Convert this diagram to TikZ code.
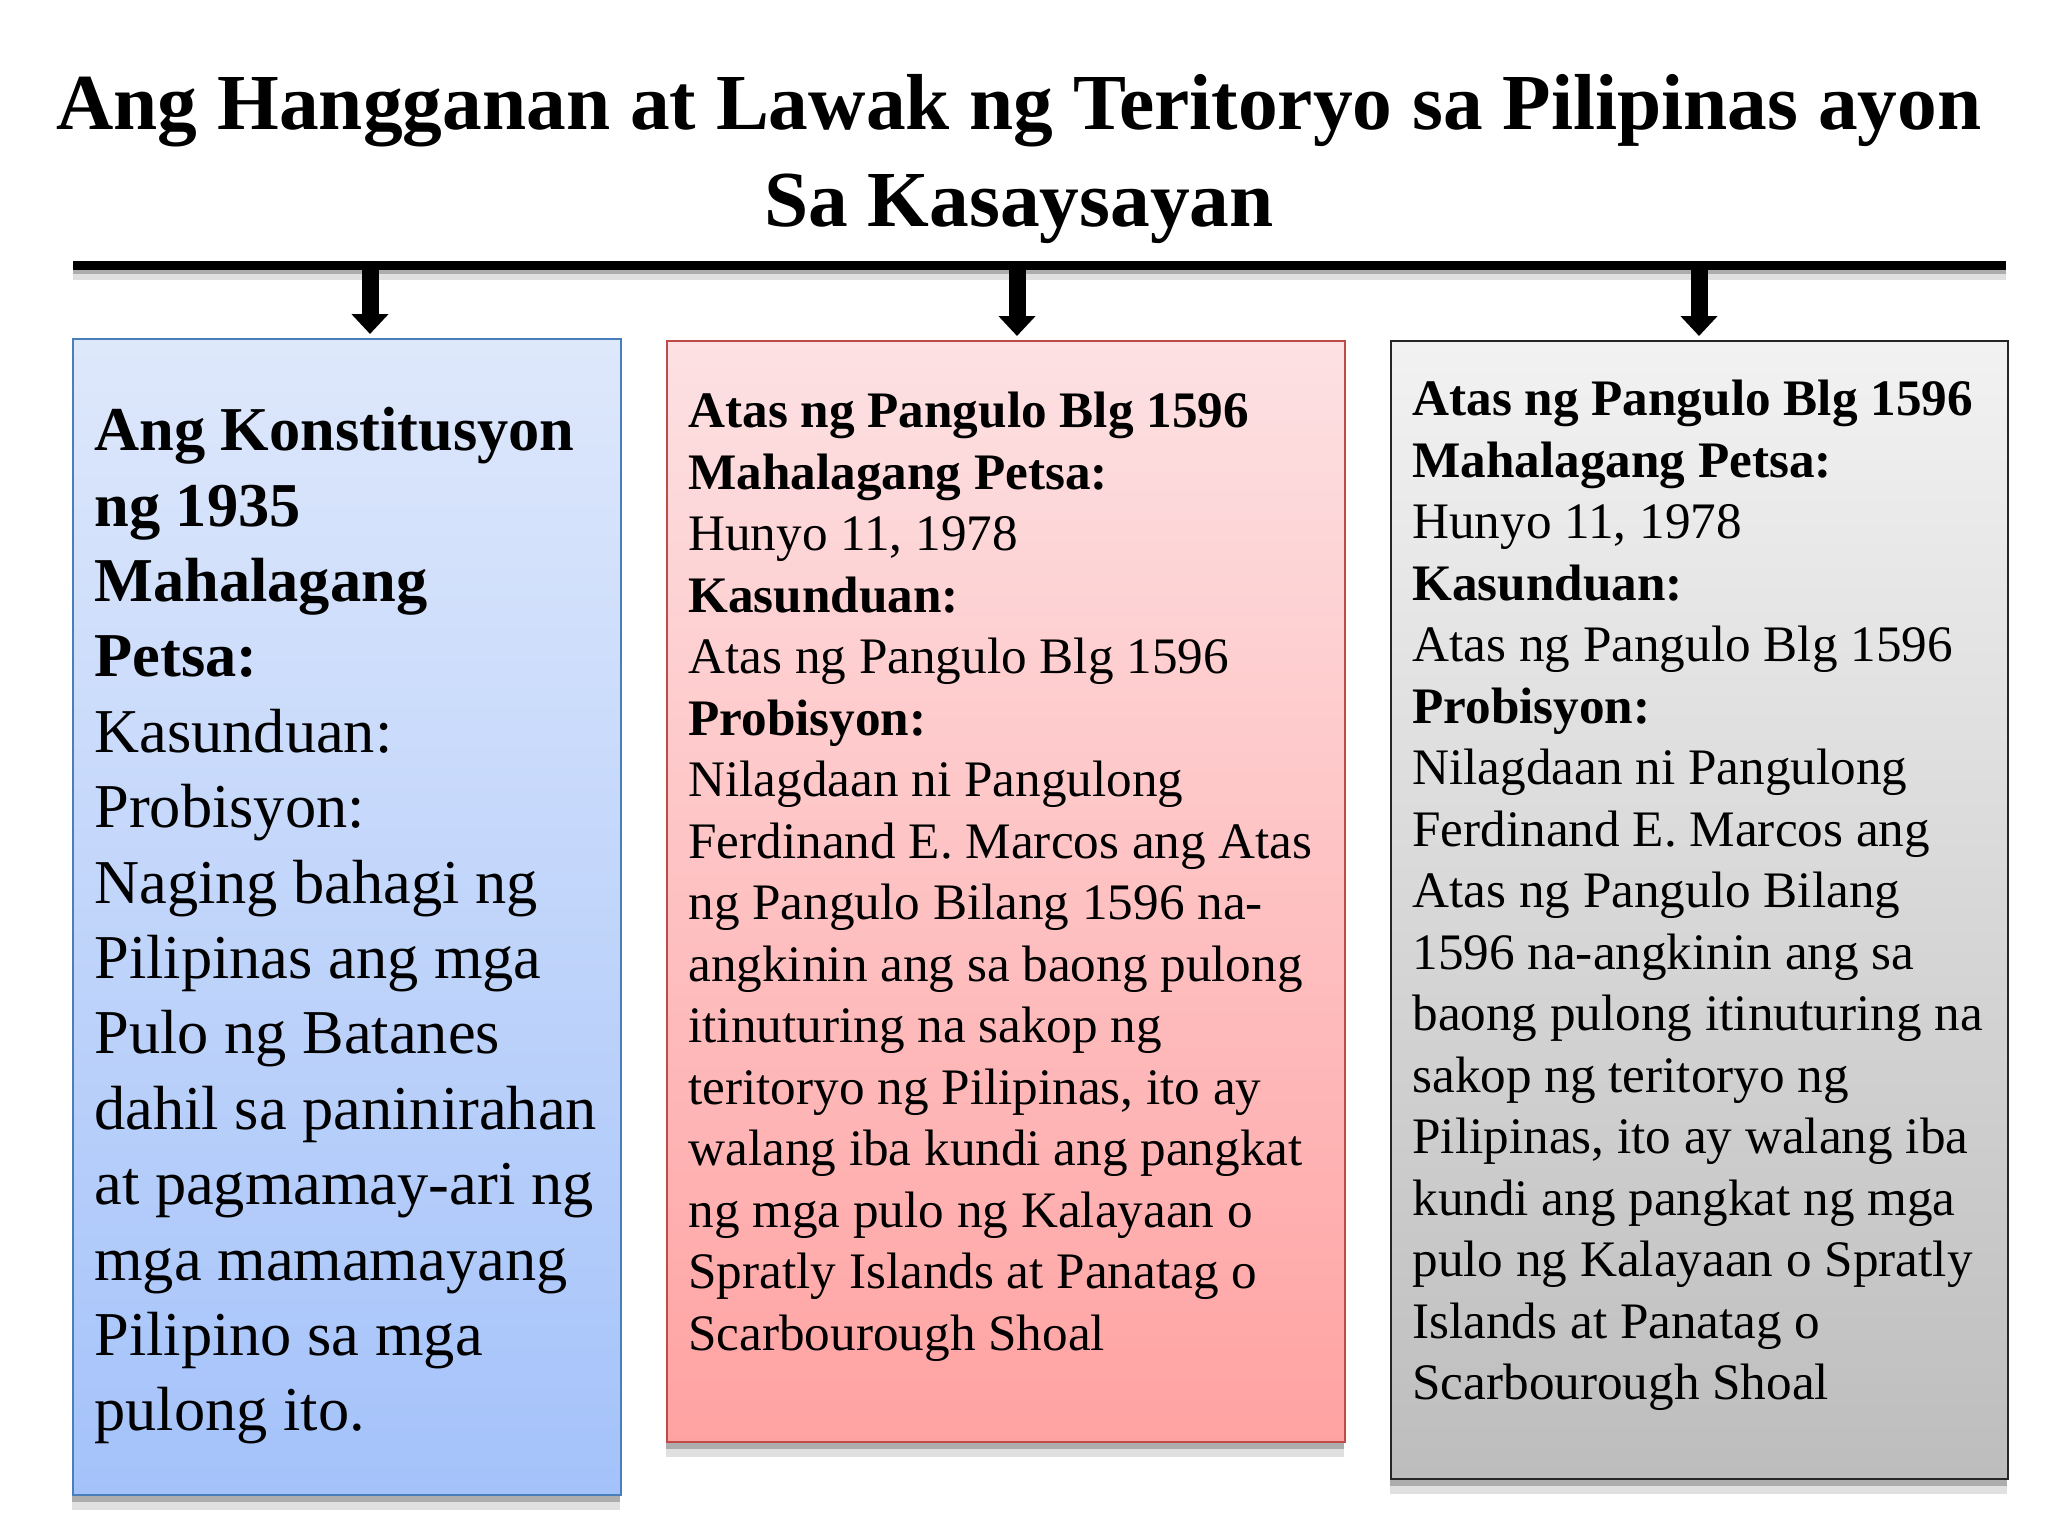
\documentclass[tikz,border=0pt]{standalone}
\usepackage{fontspec}
\setmainfont{Liberation Serif}
\usetikzlibrary{arrows.meta}
\definecolor{bluetop}{HTML}{DEE8FB}
\definecolor{bluebot}{HTML}{A4C2FA}
\definecolor{blueedge}{HTML}{4A7EBB}
\definecolor{redtop}{HTML}{FDE1E3}
\definecolor{redbot}{HTML}{FFA2A2}
\definecolor{rededge}{HTML}{BE4B48}
\definecolor{graytop}{HTML}{F2F2F2}
\definecolor{graybot}{HTML}{BDBDBD}
\tikzset{
  panel/.style={anchor=north west, inner sep=0pt, line width=1pt},
  shadowdark/.style={fill=black!32},
  shadowlight/.style={fill=black!12},
  downarrow/.style={line width=8.5pt, -{Triangle[width=18pt,length=10pt]}, shorten >=2pt},
  bigtext/.style={anchor=north west, inner sep=0pt, align=left, font=\fontsize{31.2}{37.7}\selectfont},
  smalltext/.style={anchor=north west, inner sep=0pt, align=left, font=\fontsize{25.6}{30.75}\selectfont},
}
\begin{document}
\begin{tikzpicture}[x=0.5pt,y=-0.5pt]
\useasboundingbox (0,0) rectangle (2048,1536);
\fill[white] (0,0) rectangle (2048,1536);
% title
\node (title) [anchor=north, inner sep=0pt, align=center, font=\bfseries\fontsize{39.7}{48.3}\selectfont] at (1019,74)
  {Ang Hangganan at Lawak ng Teritoryo sa Pilipinas ayon\\Sa Kasaysayan};
% bar with shadow
\fill[shadowlight] (73,269) rectangle (2006,280);
\fill[shadowdark] (73,269) rectangle (2006,274);
\coordinate (barL) at (73,265);
\coordinate (barR) at (2006,265);
\draw[line width=4.5pt] (barL) -- (barR);
% shadows of boxes
\fill[shadowdark] (72,1494) rectangle (620,1502);
\fill[shadowlight] (72,1502) rectangle (620,1510);
\fill[shadowdark] (666,1441) rectangle (1344,1449);
\fill[shadowlight] (666,1449) rectangle (1344,1457);
\fill[shadowdark] (1390,1478) rectangle (2007,1486);
\fill[shadowlight] (1390,1486) rectangle (2007,1494);
% boxes
\node (b1) [panel, draw=blueedge, top color=bluetop, bottom color=bluebot, minimum width=274pt, minimum height=578pt] at (72,338) {};
\node (b2) [panel, draw=rededge, top color=redtop, bottom color=redbot, minimum width=339pt, minimum height=550.5pt] at (666,340) {};
\node (b3) [panel, draw=black!85, top color=graytop, bottom color=graybot, minimum width=308.5pt, minimum height=569pt] at (1390,340) {};
% arrows
\coordinate (a1) at (370,269);
\coordinate (a2) at (1017,269);
\coordinate (a3) at (1699,269);
\draw[downarrow] (a1) -- (a1 |- b1.north);
\draw[downarrow] (a2) -- (a2 |- b2.north);
\draw[downarrow] (a3) -- (a3 |- b3.north);
% texts
\node (t1) [bigtext] at (94,407) {\textbf{Ang Konstitusyon}\\\textbf{ng 1935}\\\textbf{Mahalagang}\\\textbf{Petsa:}\\Kasunduan:\\Probisyon:\\Naging bahagi ng\\Pilipinas ang mga\\Pulo ng Batanes\\dahil sa paninirahan\\at pagmamay-ari ng\\mga mamamayang\\Pilipino sa mga\\pulong ito.};
\node (t2) [smalltext] at (688,392) {\textbf{Atas ng Pangulo Blg 1596}\\\textbf{Mahalagang Petsa:}\\Hunyo 11, 1978\\\textbf{Kasunduan:}\\Atas ng Pangulo Blg 1596\\\textbf{Probisyon:}\\Nilagdaan ni Pangulong\\Ferdinand E. Marcos ang Atas\\ng Pangulo Bilang 1596 na-\\angkinin ang sa baong pulong\\itinuturing na sakop ng\\teritoryo ng Pilipinas, ito ay\\walang iba kundi ang pangkat\\ng mga pulo ng Kalayaan o\\Spratly Islands at Panatag o\\Scarbourough Shoal};
\node (t3) [smalltext] at (1412,380) {\textbf{Atas ng Pangulo Blg 1596}\\\textbf{Mahalagang Petsa:}\\Hunyo 11, 1978\\\textbf{Kasunduan:}\\Atas ng Pangulo Blg 1596\\\textbf{Probisyon:}\\Nilagdaan ni Pangulong\\Ferdinand E. Marcos ang\\Atas ng Pangulo Bilang\\1596 na-angkinin ang sa\\baong pulong itinuturing na\\sakop ng teritoryo ng\\Pilipinas, ito ay walang iba\\kundi ang pangkat ng mga\\pulo ng Kalayaan o Spratly\\Islands at Panatag o\\Scarbourough Shoal};
\end{tikzpicture}
\end{document}
